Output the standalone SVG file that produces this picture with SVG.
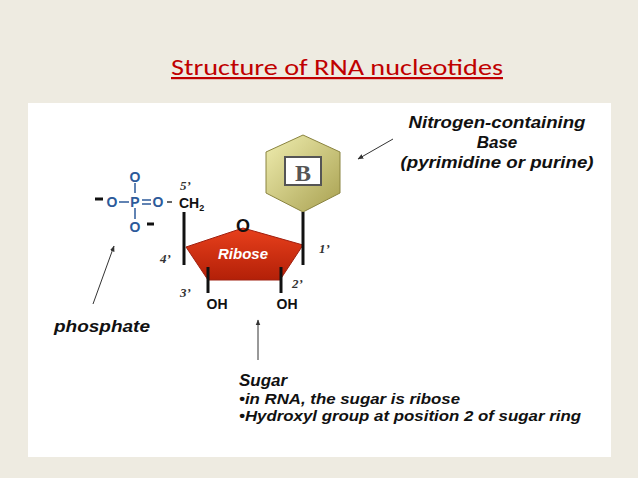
<svg xmlns="http://www.w3.org/2000/svg" width="638" height="478" viewBox="0 0 638 478">
<defs>
<style>
.b{font-family:"Liberation Sans",Arial,sans-serif;font-weight:bold;fill:#111}
.i{font-style:italic}
.n{font-family:"Liberation Serif",serif;font-style:italic;font-weight:bold;font-size:13px;fill:#333}
.p{font-family:"Liberation Sans",Arial,sans-serif;font-weight:bold;font-size:14px;fill:#2c5a9a}
.ln{stroke:#111;stroke-width:3;fill:none}
.ar{stroke:#333;stroke-width:1;fill:none;marker-end:url(#ah)}
</style>
<marker id="ah" viewBox="0 0 10 10" refX="9" refY="5" markerWidth="6" markerHeight="6" orient="auto"><path d="M0,1 L10,5 L0,9 z" fill="#333"/></marker>
<linearGradient id="rg" x1="0" y1="0" x2="0" y2="1"><stop offset="0" stop-color="#e8401c"/><stop offset="1" stop-color="#b32008"/></linearGradient>
<linearGradient id="hg" x1="0" y1="0" x2="1" y2="1"><stop offset="0" stop-color="#f0eeb0"/><stop offset="1" stop-color="#a8a050"/></linearGradient>
</defs>
<rect width="638" height="478" fill="#eeebe1"/>
<rect x="28" y="103" width="583" height="354" fill="#fff"/>
<text x="171" y="75" textLength="332" lengthAdjust="spacingAndGlyphs" font-family="Calibri,Carlito,'Liberation Sans',sans-serif" font-size="22" fill="#c00000" text-decoration="underline">Structure of RNA nucleotides</text>
<g id="base">
<polygon points="303,135 340,152 340,193 303,212 266,193 266,152" fill="url(#hg)" stroke="#8a8440"/>
<rect x="285" y="157" width="36" height="28" fill="#fff" stroke="#555" stroke-width="2"/>
<text x="303" y="181" text-anchor="middle" font-family="'Liberation Serif',serif" font-weight="bold" font-size="24" fill="#555">B</text>
</g>
<g id="ribose">
<polygon points="243,228 303,245 280,280 208,280 186,247" fill="url(#rg)" stroke="#a02010"/>
<text x="243" y="259" text-anchor="middle" class="b i" font-size="15" style="fill:#fff">Ribose</text>
<text x="243" y="232" text-anchor="middle" class="b" font-size="18">O</text>
<line class="ln" x1="303" y1="212" x2="303" y2="265"/>
<line class="ln" x1="184" y1="212" x2="184" y2="265"/>
<line class="ln" x1="208" y1="267" x2="208" y2="293"/>
<line class="ln" x1="281" y1="267" x2="281" y2="293"/>
<text x="217" y="309" text-anchor="middle" class="b" font-size="14">OH</text>
<text x="287" y="309" text-anchor="middle" class="b" font-size="14">OH</text>
<text x="180" y="190" class="n">5’</text>
<text x="160" y="263" class="n">4’</text>
<text x="180" y="297" class="n">3’</text>
<text x="292" y="288" class="n">2’</text>
<text x="319" y="253" class="n">1’</text>
<text x="179" y="208" class="b" font-size="14">CH<tspan font-size="9" dy="3">2</tspan></text>
</g>
<g id="phosphate">
<text x="135" y="182" text-anchor="middle" class="p">O</text>
<text x="135" y="207" text-anchor="middle" class="p">P</text>
<text x="135" y="232" text-anchor="middle" class="p">O</text>
<text x="112" y="207" text-anchor="middle" class="p">O</text>
<text x="158" y="207" text-anchor="middle" class="p">O</text>
<line x1="135" y1="183" x2="135" y2="193" stroke="#2c5a9a" stroke-width="1.5"/>
<line x1="135" y1="208" x2="135" y2="219" stroke="#2c5a9a" stroke-width="1.5"/>
<line x1="119" y1="202" x2="129" y2="202" stroke="#2c5a9a" stroke-width="1.5"/>
<line x1="142" y1="200" x2="151" y2="200" stroke="#2c5a9a" stroke-width="1.5"/>
<line x1="142" y1="204" x2="151" y2="204" stroke="#2c5a9a" stroke-width="1.5"/>
<line x1="95" y1="199" x2="103" y2="199" stroke="#111" stroke-width="3"/>
<line x1="147" y1="224" x2="154" y2="224" stroke="#111" stroke-width="3"/>
<line x1="167" y1="202" x2="172" y2="202" stroke="#333" stroke-width="1.5"/>
</g>
<g id="connectors">
<line class="ar" x1="93" y1="304" x2="114" y2="246"/>
<line class="ar" x1="258" y1="360" x2="258" y2="320"/>
<line class="ar" x1="393" y1="139" x2="358" y2="159"/>
</g>
<g id="labels">
<text x="54" y="332" class="b i" font-size="17" textLength="96" lengthAdjust="spacingAndGlyphs">phosphate</text>
<text x="497" y="128" text-anchor="middle" class="b i" font-size="17" textLength="177" lengthAdjust="spacingAndGlyphs">Nitrogen-containing</text>
<text x="497" y="148" text-anchor="middle" class="b i" font-size="17">Base</text>
<text x="497" y="168" text-anchor="middle" class="b i" font-size="17" textLength="193" lengthAdjust="spacingAndGlyphs">(pyrimidine or purine)</text>
<text x="239" y="386" class="b i" font-size="17">Sugar</text>
<text x="239" y="404" class="b i" font-size="15" textLength="221" lengthAdjust="spacingAndGlyphs">•in RNA, the sugar is ribose</text>
<text x="239" y="421" class="b i" font-size="15" textLength="342" lengthAdjust="spacingAndGlyphs">•Hydroxyl group at position 2 of sugar ring</text>
</g>
</svg>
